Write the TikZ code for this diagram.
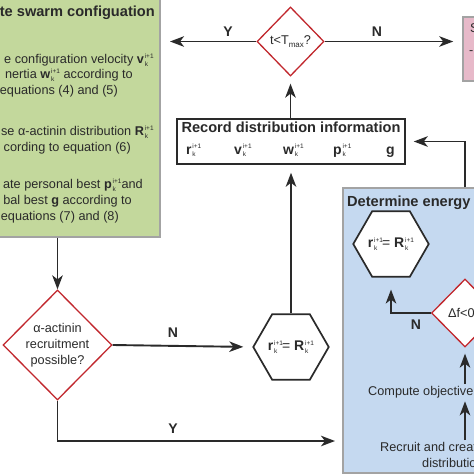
\documentclass[tikz,border=0pt]{standalone}
\usepackage{fontspec}
\setmainfont{Liberation Sans}
\usetikzlibrary{arrows.meta,shapes.geometric,calc}
\definecolor{ink}{HTML}{2A2A2A}
\definecolor{redd}{HTML}{C1272D}
\definecolor{greenbox}{HTML}{C3D89C}
\definecolor{bluebox}{HTML}{C5D9F0}
\definecolor{pinkbox}{HTML}{E7B9C9}
\definecolor{boxline}{HTML}{A3A3A3}
\newcommand{\ix}[1]{\textbf{#1}\kern0.8pt\makebox[9pt][l]{\fontsize{6.5}{6.5}\selectfont\mdseries\rlap{\raisebox{5.5pt}{i+1}}\raisebox{-2.5pt}{k}}}
\tikzset{
  every node/.style={text=ink},
  arr/.style={draw=ink, line width=1.9pt, -{Stealth[length=14pt,width=10.5pt,inset=4pt]}},
  dec/.style={diamond, draw=redd, line width=1.3pt, fill=white, inner sep=0pt, align=center,
    font=\fontsize{12.7}{16}\selectfont},
  hexa/.style={regular polygon, regular polygon sides=6, shape border rotate=0, draw=ink,
    line width=1.7pt, fill=white, minimum size=70pt, inner sep=0pt, font=\fontsize{14}{16}\selectfont},
  panel/.style={draw=boxline, line width=1.5pt, inner sep=0pt},
  txt/.style={font=\fontsize{12.7}{15.5}\selectfont, inner sep=0pt},
  ctxt/.style={font=\fontsize{12.7}{15.5}\selectfont, inner sep=2pt},
  btxt/.style={font=\fontsize{14.6}{17}\selectfont\bfseries, inner sep=0pt},
  lab/.style={font=\fontsize{14}{16}\selectfont\bfseries, inner sep=0pt},
  itm/.style={font=\fontsize{14}{16}\selectfont, inner sep=0pt, anchor=base west},
}
\begin{document}
\begin{tikzpicture}[x=1pt,y=-1pt]
\useasboundingbox (0,0) rectangle (474,474);
\fill[white] (0,0) rectangle (474,474);

% green panel
\node[panel, fill=greenbox, minimum width=180pt, minimum height=257pt] (green) at (70,108.5) {};
\node[btxt, anchor=base east] (gt) at (155,16) {te swarm configuation};
\node[txt, anchor=base east] (g1) at (154,63.5) {e configuration velocity \ix{v}};
\node[txt, anchor=base east] (g2) at (133,78.5) {nertia \ix{w} according to};
\node[txt, anchor=base east] (g3) at (118,94.5) {equations (4) and (5)};
\node[txt, anchor=base east] (g4) at (154,135.5) {se α-actinin distribution \ix{R}};
\node[txt, anchor=base east] (g5) at (131,151.5) {cording to equation (6)};
\node[txt, anchor=base east] (g6) at (143,188.5) {ate personal best \ix{p}and};
\node[txt, anchor=base east] (g7) at (132,204.5) {bal best \textbf{g} according to};
\node[txt, anchor=base east] (g8) at (119,220.5) {equations (7) and (8)};

% pink panel
\node[panel, fill=pinkbox, minimum width=60pt, minimum height=64pt] (pink) at (493,49) {};
\node[txt, anchor=base west] (p1) at (470,32.5) {S};
\node[txt, anchor=base west] (p2) at (469,54.5) {-};

% blue panel
\node[panel, fill=bluebox, minimum width=187pt, minimum height=285pt] (blue) at (436.5,330.5) {};
\node[btxt, anchor=base west] (bt) at (347,206) {Determine energy};

% decisions
\node[dec, minimum width=67pt, minimum height=69pt] (tq) at (290.5,41.5)
  {t<T\raisebox{-2.5pt}{\fontsize{8}{8}\selectfont max}?};
\node[dec, minimum width=109pt, minimum height=110pt] (dia) at (57.5,345)
  {α-actinin\\recruitment\\possible?};
\node[dec, minimum width=67pt, minimum height=68pt] (dft) at (465,313) {Δf<0?};

% hexagons
\node[hexa] (hex1) at (291,347) {\ix{r}\kern-1pt= \ix{R}};
\node[hexa] (hex2) at (391,244) {\ix{r}\kern-1pt= \ix{R}};

% record box
\node[draw=ink, line width=1.5pt, fill=white, minimum width=228pt, minimum height=45pt, inner sep=0pt] (rec) at (291,141.5) {};
\node[btxt, anchor=base] (rt) at (291,132) {Record distribution information};
\node[itm] (i1) at (186,154) {\ix{r}};
\node[itm] (i2) at (234,154) {\ix{v}};
\node[itm] (i3) at (283,154) {\ix{w}};
\node[itm] (i4) at (333,154) {\ix{p}};
\node[itm] (i5) at (386,154) {\textbf{g}};

% text steps in blue panel
\node[ctxt, anchor=base west] (comp) at (366,395.5) {Compute objective};
\node[ctxt, anchor=base west] (rc1) at (378,451.5) {Recruit and create};
\node[ctxt, anchor=base west] (rc2) at (420,467.5) {distribution};

% free ends
\coordinate (yend) at (170,41.5);
\coordinate (yb) at (343,441);

% connectors
\draw[arr] (tq.west) -- (yend);
\draw[arr, shorten >=9pt] (tq.east) -- (tq.east -| pink.west);
\draw[arr, shorten >=7pt] (rec.north -| tq.south) -- (tq.south);
\draw[arr, shorten >=8pt] (hex1.north) -- (hex1.north |- rec.south);
\draw[arr, shorten >=8pt] (dft.center |- blue.north) |- (rec.east);
\draw[arr] (green.south -| dia.north) -- (dia.north);
\draw[arr, shorten >=9pt] (dia.east) -- (hex1.west);
\draw[arr, shorten >=8pt] (dia.south) |- (yb);
\draw[arr, shorten >=12pt] (dft.west) -| (hex2.south);
\draw[arr, shorten >=6pt] (comp.north -| dft.south) -- (dft.south);
\draw[arr, shorten >=1pt] (rc1.north -| dft.south) -- (comp.south -| dft.south);

% labels
\node[lab] (ly1) at (228,32) {Y};
\node[lab] (ln1) at (377,32) {N};
\node[lab] (ln2) at (173,333) {N};
\node[lab] (ly2) at (173,429) {Y};
\node[lab] (ln3) at (416,325) {N};
\end{tikzpicture}
\end{document}
